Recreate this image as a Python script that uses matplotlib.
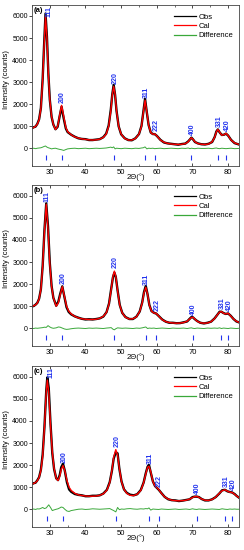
"""
    XRD Rietveld refinement plots, three samples (a), (b), (c).
"""
import numpy as np
import matplotlib
matplotlib.use("Agg")
import matplotlib.pyplot as plt

plt.rcParams['font.family'] = ['Liberation Sans', 'DejaVu Sans']

# -- panel (a)
x_a = [25.0, 25.5, 26.0, 26.5, 27.0, 27.5, 28.0, 28.4, 28.8, 29.2,
       29.6, 30.0, 30.5, 31.0, 31.6, 32.2, 32.7, 33.3, 33.9, 34.5,
       35.0, 36.0, 37.0, 38.0, 39.0, 40.0, 41.0, 42.0, 43.0, 44.0,
       45.0, 45.8, 46.5, 47.1, 47.5, 47.9, 48.3, 48.7, 49.3, 50.0,
       51.0, 52.0, 53.0, 54.0, 55.0, 55.7, 56.2, 56.7, 57.2, 57.7,
       58.3, 58.9, 59.4, 60.0, 61.0, 62.0, 63.0, 64.0, 65.0, 66.0,
       67.0, 68.0, 68.8, 69.3, 69.7, 70.1, 70.7, 71.5, 72.5, 73.5,
       74.5, 75.5, 76.2, 76.7, 77.1, 77.6, 78.2, 78.8, 79.4, 80.0,
       80.8, 81.8, 83.0]
cal_a = [920, 950, 1000, 1100, 1300, 1800, 3100, 4600, 6000, 5000,
         3350, 2200, 1450, 1080, 860, 1000, 1450, 1950, 1450, 950,
         760, 620, 520, 470, 430, 410, 390, 380, 390, 420,
         500, 650, 1000, 1700, 2400, 2810, 2450, 1700, 1000, 650,
         450, 380, 380, 450, 650, 1000, 1600, 2180, 1650, 1050,
         720, 640, 660, 570, 380, 280, 230, 200, 190, 180,
         190, 220, 300, 420, 480, 420, 300, 220, 190, 180,
         200, 300, 500, 750, 860, 740, 600, 620, 680, 580,
         380, 250, 180]
diff_a = [0, 10, -10, 10, 20, 30, 60, 90, 110, 60,
          30, 10, -20, 0, 10, -20, -40, -60, -90, -50,
          -20, 0, 10, -10, 0, 10, -10, 0, 10, 0,
          10, 20, 40, 60, 30, 70, -20, 10, 0, -10,
          10, 0, -10, 10, 0, 20, 30, 70, -20, 10,
          0, 10, -10, 0, 10, -10, 0, 10, 0, -10,
          10, 0, 20, -10, 10, 0, -10, 10, 0, 0,
          10, -10, 10, 20, 0, -10, 10, 0, -10, 0,
          10, -10, 0]
peaks_a = [28.8, 33.3, 47.9, 56.7, 59.4, 69.7, 77.1, 79.4]

# -- panel (b)
x_b = [25.0, 25.5, 26.0, 26.5, 27.0, 27.5, 28.0, 28.5, 29.0, 29.5,
       30.0, 30.5, 31.0, 31.8, 32.4, 32.9, 33.5, 34.1, 34.7, 35.3,
       36.0, 37.0, 38.0, 39.0, 40.0, 41.0, 42.0, 43.0, 44.0, 45.0,
       45.9, 46.6, 47.2, 47.7, 48.1, 48.5, 49.0, 49.6, 50.3, 51.2,
       52.3, 53.3, 54.3, 55.2, 55.9, 56.4, 56.9, 57.4, 57.9, 58.5,
       59.2, 59.8, 60.5, 61.5, 62.5, 63.5, 64.5, 65.5, 66.5, 67.5,
       68.5, 69.2, 69.7, 70.1, 70.6, 71.3, 72.2, 73.2, 74.2, 75.2,
       76.2, 77.0, 77.6, 78.1, 78.7, 79.3, 80.0, 80.7, 81.5, 82.3,
       83.0]
cal_b = [990, 1020, 1060, 1150, 1330, 1750, 2800, 4400, 5620, 4500,
         2900, 1900, 1380, 1000, 1150, 1500, 1890, 1450, 1000, 780,
         650, 540, 470, 430, 410, 400, 400, 410, 450, 540,
         720, 1100, 1750, 2350, 2590, 2350, 1700, 1050, 700, 500,
         420, 430, 520, 760, 1150, 1600, 1860, 1550, 1050, 780,
         690, 680, 560, 390, 300, 260, 240, 230, 235, 260,
         320, 420, 490, 500, 430, 320, 250, 230, 240, 300,
         440, 620, 730, 760, 680, 650, 680, 560, 420, 320,
         270]
diff_b = [0, -10, 10, 0, 10, 20, 30, 50, 40, 120,
          60, 20, 0, 20, 60, 50, 10, -30, -50, -40,
          -20, 0, 10, 0, -10, 10, 0, 10, 0, -10,
          10, 20, 30, -40, -70, -20, 20, 10, 0, 10,
          0, -10, 10, 0, 20, 40, 60, -10, 10, 0,
          10, -10, 0, 10, 0, -10, 10, 0, 0, 10,
          -10, 10, 20, 0, -10, 10, 0, -10, 10, 0,
          10, 0, 20, -10, 10, 0, -10, 10, 0, -10,
          0]
peaks_b = [29.0, 33.5, 48.1, 56.9, 59.8, 70.1, 78.1, 80.0]

# -- panel (c)
x_c = [25.0, 25.5, 26.0, 26.5, 27.0, 27.5, 28.0, 28.5, 29.0, 29.3,
       29.7, 30.2, 30.7, 31.2, 31.8, 32.3, 32.8, 33.2, 33.7, 34.2,
       34.8, 35.4, 36.0, 37.0, 38.0, 39.0, 40.0, 41.0, 42.0, 43.0,
       44.0, 45.0, 46.0, 46.8, 47.4, 47.9, 48.5, 49.0, 49.5, 50.1,
       50.8, 51.6, 52.5, 53.5, 54.5, 55.5, 56.3, 56.9, 57.4, 57.8,
       58.3, 58.9, 59.5, 60.5, 61.3, 62.2, 63.2, 64.2, 65.2, 66.2,
       67.2, 68.2, 69.2, 70.0, 70.6, 71.2, 71.8, 72.6, 73.5, 74.5,
       75.5, 76.5, 77.5, 78.3, 79.1, 79.8, 80.5, 81.1, 81.8, 82.4,
       83.0]
cal_c = [1140, 1170, 1210, 1290, 1440, 1750, 2400, 3700, 5300, 5850,
         5300, 3800, 2600, 1850, 1400, 1300, 1500, 1800, 1980, 1750,
         1300, 1000, 850, 720, 650, 620, 600, 590, 590, 600,
         630, 700, 860, 1200, 1750, 2350, 2700, 2450, 1850, 1250,
         900, 720, 630, 620, 680, 850, 1200, 1600, 1900, 1950,
         1700, 1250, 1050, 900, 720, 560, 460, 410, 390, 380,
         390, 410, 460, 530, 570, 580, 540, 460, 410, 400,
         440, 550, 720, 840, 880, 820, 770, 760, 680, 600,
         530]
diff_c = [0, 10, -10, 20, 10, 40, 80, 30, 60, 120,
          200, 80, -60, -30, 0, 20, 60, 100, 80, 0,
          -80, -100, -60, -30, 0, 10, -10, 0, 20, 10,
          0, 10, 20, 30, -20, -60, -120, 80, -20, 10,
          0, 20, 30, 10, 0, 20, 10, 30, 20, 60,
          -40, 10, 0, -10, 10, 0, -10, 0, 10, -10,
          0, 10, -10, 20, 0, -10, 10, 0, -10, 0,
          10, 0, -10, 20, 0, -10, 10, 0, 10, 0,
          0]
peaks_c = [29.3, 33.7, 48.5, 57.8, 60.5, 71.2, 79.1, 81.1]

hkl = ["111", "200", "220", "311", "222", "400", "331", "420"]
panel_names = ["(a)", "(b)", "(c)"]

fig = plt.figure(figsize=(2.44, 5.5), dpi=100)
bottoms = [0.698, 0.371, 0.042]


def draw_panel(ax, x, cal, diff, peaks, name):
    x = np.array(x)
    cal = np.array(cal, dtype=float)
    diff = np.array(diff, dtype=float)
    obs = cal + diff
    ax.plot(x, obs, color="black", lw=1.7, label="Obs")
    ax.plot(x, cal, color="red", lw=1.0, label="Cal")
    ax.plot(x, diff, color="#3aa83a", lw=0.7, label="Difference")
    # bragg positions
    ax.vlines(peaks, -520, -290, color="#2233ee", lw=0.8)
    for p, lab in zip(peaks, hkl):
        top = np.interp(p, x, cal)
        y = top + 120
        dx = 0.3
        if y > 5900:  # peak touches the top, put label beside it
            y = 5950
            dx = 1.1
        ax.text(p + dx, y, lab, rotation=90, color="#2233ee", fontsize=5,
                fontweight="bold", ha="center", va="bottom", clip_on=False)
    ax.text(0.01, 0.985, name, transform=ax.transAxes, fontsize=5.5,
            fontweight="bold", va="top", ha="left")
    ax.set_xlim(25, 83)
    ax.set_ylim(-800, 6500)
    ax.set_xticks([30, 40, 50, 60, 70, 80])
    ax.set_xticks(np.arange(25, 84, 5), minor=True)
    ax.set_yticks([0, 1000, 2000, 3000, 4000, 5000, 6000])
    ax.tick_params(axis="x", direction="in", top=True, length=2, width=0.5,
                   labelsize=5.5, pad=2)
    ax.tick_params(axis="x", which="minor", direction="in", top=True,
                   length=1.2, width=0.4)
    ax.tick_params(axis="y", direction="out", length=2, width=0.5,
                   labelsize=5, pad=1)
    for s in ax.spines.values():
        s.set_linewidth(0.6)
        s.set_color("#444444")
    ax.set_ylabel("Intensity (counts)", fontsize=5.5)
    ax.yaxis.set_label_coords(-0.108, 0.54)
    ax.set_xlabel("2Θ(°)", fontsize=5.5)
    ax.xaxis.set_label_coords(0.5, -0.045)
    leg = ax.legend(loc="upper right", fontsize=5.5, frameon=False,
                    handlelength=3.0, handletextpad=0.3, labelspacing=0.25,
                    borderaxespad=0.3, bbox_to_anchor=(1.0, 0.98))
    for line in leg.get_lines():
        line.set_linewidth(0.9)


for b, x, cal, diff, peaks, name in zip(
        bottoms,
        [x_a, x_b, x_c], [cal_a, cal_b, cal_c], [diff_a, diff_b, diff_c],
        [peaks_a, peaks_b, peaks_c], panel_names):
    ax = fig.add_axes([0.131, b, 0.848, 0.293])
    draw_panel(ax, x, cal, diff, peaks, name)

fig.savefig("out.png", dpi=100)
